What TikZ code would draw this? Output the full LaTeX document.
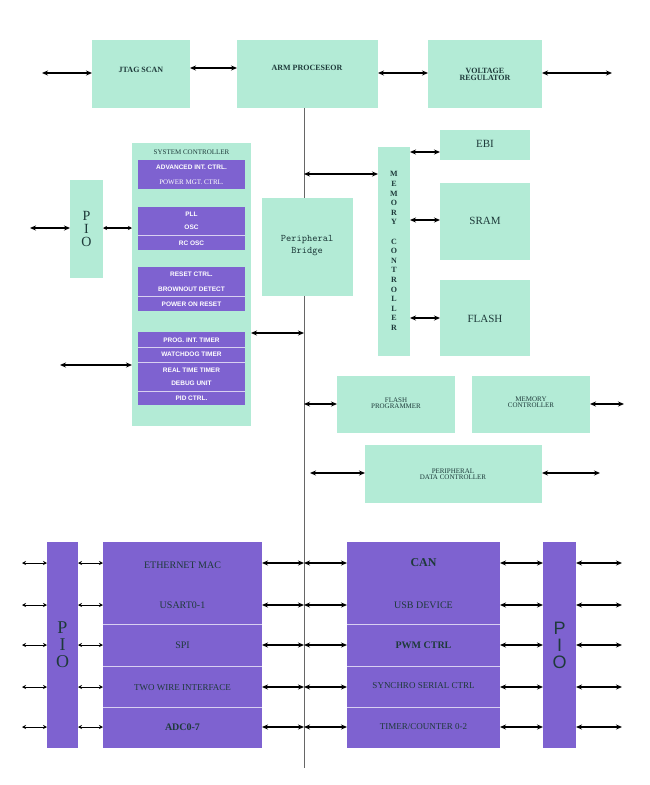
\documentclass[tikz,border=0pt]{standalone}
\usepackage{fontspec}
\setmainfont{Liberation Serif}
\newfontfamily\sansf{Liberation Sans}
\usetikzlibrary{arrows.meta}
\definecolor{mint}{HTML}{B3EBD6}
\definecolor{purp}{HTML}{7E62D0}
\definecolor{txt}{HTML}{1E3A3A}
\begin{document}
\begin{tikzpicture}[x=1pt,y=-1pt,
  mb/.style={fill=mint,draw=none},
  pb/.style={fill=purp,draw=none},
  sep/.style={draw=white!70!purp,line width=0.6pt},
  lab/.style={text=txt,font=\fontsize{8}{9}\selectfont\bfseries,align=center},
  big/.style={text=txt,font=\fontsize{11}{13}\selectfont,align=center},
  sc/.style={text=white,font=\sansf\fontsize{6.5}{7}\selectfont\bfseries},
  io/.style={text=txt,font=\fontsize{10}{11}\selectfont,align=center},
  ar/.style={{Stealth[length=6pt,width=5pt]}-{Stealth[length=6pt,width=5pt]},line width=1.3pt,black},
  sar/.style={{Stealth[length=4pt,width=4pt]}-{Stealth[length=4pt,width=4pt]},line width=1pt,black}]
\useasboundingbox (0,0) rectangle (650,785);
% bus
\draw[gray!80!black,line width=0.8pt] (304,108) -- (304,768);
% top row
\fill[mb] (92,40) rectangle (190,108); \node[lab] (jtag) at (141,70) {JTAG SCAN};
\fill[mb] (237,40) rectangle (378,108); \node[lab] (arm) at (307,68) {ARM PROCESEOR};
\fill[mb] (428,40) rectangle (542,108); \node[lab] (vr) at (485,74) {VOLTAGE\\[-2pt]REGULATOR};
\coordinate (t1) at (42,73); \coordinate (t2) at (92,73); \coordinate (t3) at (190,68); \coordinate (t4) at (237,68);
\coordinate (t5) at (378,73); \coordinate (t6) at (428,73); \coordinate (t7) at (542,73); \coordinate (t8) at (612,73);
\draw[ar] (t1)--(t2); \draw[ar] (t3)--(t4); \draw[ar] (t5)--(t6); \draw[ar] (t7)--(t8);
% system controller
\fill[mb] (132,143) rectangle (251,426);
\node[text=txt,font=\fontsize{7}{8}\selectfont] (sct) at (191.5,152) {SYSTEM CONTROLLER};
\fill[pb] (138,160) rectangle (245,189);
\node[sc] at (191.5,167) {ADVANCED INT. CTRL.};
\node[text=white,font=\fontsize{7}{8}\selectfont] at (191.5,182) {POWER MGT. CTRL.};
\fill[pb] (138,207) rectangle (245,250); \draw[sep] (138,235)--(245,235);
\node[sc] at (191.5,214) {PLL}; \node[sc] at (191.5,227) {OSC}; \node[sc] at (191.5,243) {RC OSC};
\fill[pb] (138,267) rectangle (245,311); \draw[sep] (138,296)--(245,296);
\node[sc] at (191.5,274) {RESET CTRL.}; \node[sc] at (191.5,289) {BROWNOUT DETECT}; \node[sc] at (191.5,304) {POWER ON RESET};
\fill[pb] (138,332) rectangle (245,405);
\draw[sep] (138,347)--(245,347); \draw[sep] (138,362)--(245,362); \draw[sep] (138,391)--(245,391);
\node[sc] at (191.5,340) {PROG. INT. TIMER}; \node[sc] at (191.5,354) {WATCHDOG TIMER};
\node[sc] at (191.5,370) {REAL TIME TIMER}; \node[sc] at (191.5,383) {DEBUG UNIT}; \node[sc] at (191.5,398) {PID CTRL.};
% PIO left
\fill[mb] (70,180) rectangle (103,278);
\node[text=txt,font=\fontsize{14}{13}\selectfont,align=center] (pio1) at (86.5,229) {P\\I\\O};
\coordinate (p1) at (30,228); \coordinate (p2) at (70,228); \coordinate (p3) at (103,228); \coordinate (p4) at (132,228);
\draw[ar] (p1)--(p2); \draw[sar,line width=1.3pt] (p3)--(p4);
\coordinate (s1) at (60,365); \coordinate (s2) at (132,365); \draw[ar] (s1)--(s2);
\coordinate (s3) at (251,333); \coordinate (s4) at (304,333); \draw[ar] (s3)--(s4);
% peripheral bridge
\fill[mb] (262,198) rectangle (353,296);
\node[text=txt,font=\ttfamily\fontsize{10}{12}\selectfont,align=center] (pbr) at (307,246) {Peripheral\\Bridge};
% memory controller
\fill[mb] (378,147) rectangle (410,356);
\node[text=txt,font=\fontsize{8}{9.6}\selectfont\bfseries,align=center] (mc) at (394,251) {M\\E\\M\\O\\R\\Y\\ \\C\\O\\N\\T\\R\\O\\L\\L\\E\\R};
\coordinate (m1) at (304,174); \coordinate (m2) at (378,174); \draw[ar] (m1)--(m2);
\fill[mb] (440,130) rectangle (530,160); \node[big] (ebi) at (485,144) {EBI};
\fill[mb] (440,183) rectangle (530,260); \node[big] (sram) at (485,221) {SRAM};
\fill[mb] (440,280) rectangle (530,356); \node[big] (flash) at (485,319) {FLASH};
\foreach \yy in {152,220,318} {\coordinate (a) at (410,\yy); \coordinate (b) at (440,\yy); \draw[ar] (a)--(b);}
% flash programmer etc
\fill[mb] (337,376) rectangle (455,433); \node[lab,font=\fontsize{7}{8}\selectfont] (fp) at (396,403) {FLASH\\[-2pt]PROGRAMMER};
\fill[mb] (472,376) rectangle (590,433); \node[lab,font=\fontsize{7}{8}\selectfont] (mc2) at (531,402) {MEMORY\\[-2pt]CONTROLLER};
\coordinate (f1) at (304,404); \coordinate (f2) at (337,404); \draw[ar] (f1)--(f2);
\coordinate (f3) at (590,404); \coordinate (f4) at (624,404); \draw[ar] (f3)--(f4);
\fill[mb] (365,445) rectangle (542,503); \node[lab,font=\fontsize{7}{8}\selectfont] (pdc) at (453,474) {PERIPHERAL\\[-2pt]DATA CONTROLLER};
\coordinate (d1) at (310,473); \coordinate (d2) at (365,473); \draw[ar] (d1)--(d2);
\coordinate (d3) at (542,473); \coordinate (d4) at (600,473); \draw[ar] (d3)--(d4);
% bottom
\fill[pb] (47,542) rectangle (78,748);
\node[text=txt,font=\fontsize{18}{17}\selectfont,align=center] (pio2) at (62.5,645) {P\\I\\O};
\fill[pb] (543,542) rectangle (576,748);
\node[text=txt,font=\sansf\fontsize{18}{17}\selectfont,align=center] (pio3) at (559.5,645) {P\\I\\O};
\fill[pb] (103,542) rectangle (262,748);
\fill[pb] (347,542) rectangle (500,748);
\foreach \yy in {624,666,707} {\draw[sep] (103,\yy)--(262,\yy); \draw[sep] (347,\yy)--(500,\yy);}
\node[io] (e1) at (182.5,565) {ETHERNET MAC};
\node[io] (e2) at (182.5,605) {USART0-1};
\node[io] (e3) at (182.5,645) {SPI};
\node[io,font=\fontsize{9}{10}\selectfont] (e4) at (182.5,688) {TWO WIRE INTERFACE};
\node[io,font=\fontsize{10}{11}\selectfont\bfseries] (e5) at (182.5,727) {ADC0-7};
\node[io,font=\fontsize{12}{13}\selectfont\bfseries] (r1) at (423.5,563) {CAN};
\node[io] (r2) at (423.5,605) {USB DEVICE};
\node[io,font=\fontsize{10}{11}\selectfont\bfseries] (r3) at (423.5,645) {PWM CTRL};
\node[io,font=\fontsize{9}{10}\selectfont] (r4) at (423.5,686) {SYNCHRO SERIAL CTRL};
\node[io,font=\fontsize{9}{10}\selectfont] (r5) at (423.5,727) {TIMER/COUNTER 0-2};
\foreach \yy in {563,605,645,687,727} {
  \coordinate (a) at (22,\yy); \coordinate (b) at (47,\yy); \draw[sar] (a)--(b);
  \coordinate (a) at (78,\yy); \coordinate (b) at (103,\yy); \draw[sar] (a)--(b);
  \coordinate (a) at (262,\yy); \coordinate (b) at (304,\yy); \draw[ar] (a)--(b);
  \coordinate (a) at (304,\yy); \coordinate (b) at (347,\yy); \draw[ar] (a)--(b);
  \coordinate (a) at (500,\yy); \coordinate (b) at (543,\yy); \draw[ar] (a)--(b);
  \coordinate (a) at (576,\yy); \coordinate (b) at (622,\yy); \draw[ar] (a)--(b);
}
\end{tikzpicture}
\end{document}
